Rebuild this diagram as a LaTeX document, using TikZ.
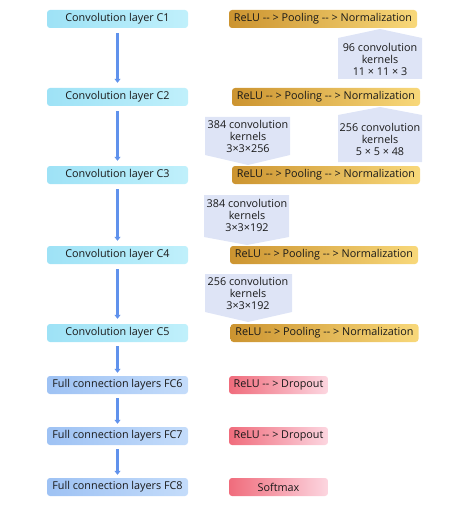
\documentclass[tikz,border=0pt]{standalone}
\usepackage{fontspec}
\setmainfont{Open Sans}
\usetikzlibrary{arrows.meta}
\definecolor{convL}{RGB}{158,226,246}
\definecolor{convR}{RGB}{192,240,251}
\definecolor{fcL}{RGB}{158,194,244}
\definecolor{fcR}{RGB}{196,220,250}
\definecolor{opL}{RGB}{204,148,48}
\definecolor{opR}{RGB}{248,216,122}
\definecolor{dropL}{RGB}{240,108,124}
\definecolor{dropR}{RGB}{252,214,224}
\definecolor{kernfill}{RGB}{222,228,246}
\definecolor{flowblue}{RGB}{96,146,236}
\newcommand{\boxfont}{\fontsize{10.8}{12}\selectfont}

\begin{document}
\begin{tikzpicture}[x=1pt,y=-1pt,
        layer/.style={rounded corners=3pt, minimum height=18pt, inner sep=0pt, font=\boxfont, text=black!90},
        conv/.style={layer, minimum width=141pt, left color=convL, right color=convR},
        full/.style={layer, minimum width=141pt, left color=fcL, right color=fcR},
        oper/.style={layer, minimum width=188pt, left color=opL, right color=opR},
        drop/.style={layer, minimum width=99pt, left color=dropL, right color=dropR},
        kern/.style={fill=kernfill},
        kerntext/.style={align=center, font=\boxfont, text=black!90, inner sep=0pt},
        flow/.style={draw=flowblue, line width=2.4pt, shorten <=5pt, shorten >=5pt, -{Triangle[width=6pt,length=4pt]}}]

        \useasboundingbox (0,0) rectangle (474,508);

        % layers on the left
        \node (c1) at (117.5,19) [conv] {Convolution layer C1};
        \node (c2) at (117.5,97) [conv] {Convolution layer C2};
        \node (c3) at (117.5,175) [conv] {Convolution layer C3};
        \node (c4) at (117.5,255) [conv] {Convolution layer C4};
        \node (c5) at (117.5,333) [conv] {Convolution layer C5};
        \node (fc6) at (117.5,385) [full] {Full connection layers FC6};
        \node (fc7) at (117.5,436) [full] {Full connection layers FC7};
        \node (fc8) at (117.5,487) [full] {Full connection layers FC8};

        % operations on the right
        \node (op1) at (323,19) [oper] {ReLU -{}- > Pooling -{}- > Normalization};
        \node (op2) at (326,97) [oper] {ReLU -{}- > Pooling -{}- > Normalization};
        \node (op3) at (326,175) [oper] {ReLU -{}- > Pooling -{}- > Normalization};
        \node (op4) at (324,255) [oper] {ReLU -{}- > Pooling -{}- > Normalization};
        \node (op5) at (324.5,333) [oper] {ReLU -{}- > Pooling -{}- > Normalization};
        \node (op6) at (278.5,385) [drop] {ReLU -{}- > Dropout};
        \node (op7) at (278.5,436) [drop] {ReLU -{}- > Dropout};
        \node (op8) at (278.5,487) [drop] {Softmax};

        % kernel callouts
        \fill[kern] (338,38) -- (380,29) -- (422,38) -- (422,79) -- (338,79) -- cycle;
        \node (k1) at (380,59) [kerntext] {96 convolution\\kernels\\11 × 11 × 3};
        \fill[kern] (338,115) -- (380,107) -- (422,115) -- (422,162) -- (338,162) -- cycle;
        \node (k2) at (380,139) [kerntext] {256 convolution\\kernels\\5 × 5 × 48};
        \fill[kern] (205,117) -- (290,117) -- (290,155) -- (248,165) -- (205,155) -- cycle;
        \node (k3) at (248,136) [kerntext] {384 convolution\\kernels\\3×3×256};
        \fill[kern] (204,195) -- (289,195) -- (289,237) -- (247,245) -- (204,237) -- cycle;
        \node (k4) at (247,215) [kerntext] {384 convolution\\kernels\\3×3×192};
        \fill[kern] (205,274) -- (292,274) -- (292,312) -- (248,322) -- (205,312) -- cycle;
        \node (k5) at (248,293) [kerntext] {256 convolution\\kernels\\3×3×192};

        \draw[flow] (c1) -- (c2);
        \draw[flow] (c2) -- (c3);
        \draw[flow] (c3) -- (c4);
        \draw[flow] (c4) -- (c5);
        \draw[flow, shorten <=4pt, shorten >=3pt] (c5) -- (fc6);
        \draw[flow, shorten <=4pt, shorten >=3pt] (fc6) -- (fc7);
        \draw[flow, shorten <=4pt, shorten >=3pt] (fc7) -- (fc8);
\end{tikzpicture}
\end{document}
